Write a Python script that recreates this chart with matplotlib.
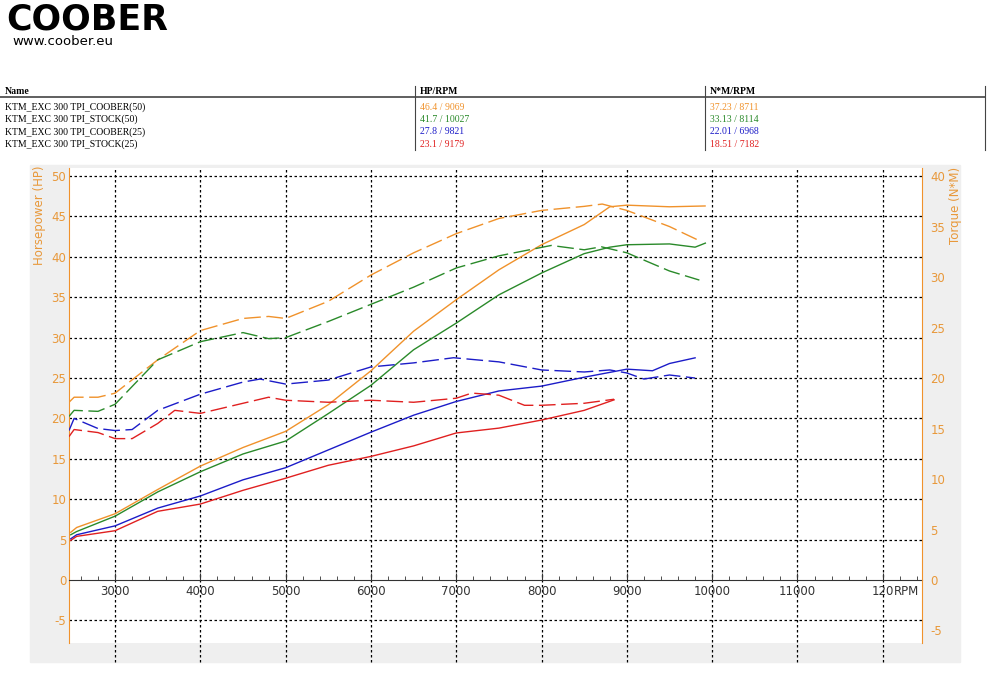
import matplotlib
matplotlib.use("Agg")
import matplotlib.pyplot as plt
from matplotlib.lines import Line2D
from matplotlib.patches import Rectangle
import numpy as np

names = ["KTM_EXC 300 TPI_COOBER(50)", "KTM_EXC 300 TPI_STOCK(50)",
         "KTM_EXC 300 TPI_COOBER(25)", "KTM_EXC 300 TPI_STOCK(25)"]
hp_peaks = ["46.4 / 9069", "41.7 / 10027", "27.8 / 9821", "23.1 / 9179"]
tq_peaks = ["37.23 / 8711", "33.13 / 8114", "22.01 / 6968", "18.51 / 7182"]
colors = ["#f0922b", "#2a8a2a", "#1c1cc8", "#e02020"]

# Horsepower (solid)
hp_rpm = [
    [2480, 2550, 3000, 3500, 4000, 4500, 5000, 5500, 6000, 6500, 7000, 7500, 8000, 8500, 8800, 9000, 9500, 9917],
    [2480, 2550, 3000, 3500, 4000, 4500, 5000, 5500, 6000, 6500, 7000, 7500, 8000, 8500, 8800, 9000, 9500, 9800, 9920],
    [2480, 2550, 3000, 3500, 4000, 4500, 5000, 5500, 6000, 6500, 7000, 7500, 8000, 8500, 9000, 9300, 9500, 9800],
    [2480, 2550, 3000, 3500, 4000, 4500, 5000, 5500, 6000, 6500, 7000, 7500, 8000, 8500, 8850],
]
hp_val = [
    [5.9, 6.5, 8.2, 11.2, 14.1, 16.4, 18.4, 21.7, 25.9, 30.8, 34.7, 38.4, 41.5, 44.0, 46.2, 46.4, 46.2, 46.3],
    [5.6, 6.0, 7.9, 10.9, 13.4, 15.6, 17.2, 20.6, 24.1, 28.5, 31.8, 35.3, 38.0, 40.4, 41.2, 41.5, 41.6, 41.2, 41.7],
    [5.1, 5.6, 6.7, 8.9, 10.4, 12.4, 13.9, 16.1, 18.3, 20.4, 22.1, 23.4, 24.0, 25.1, 26.1, 25.9, 26.8, 27.5],
    [4.9, 5.4, 6.1, 8.5, 9.4, 11.1, 12.6, 14.2, 15.3, 16.6, 18.2, 18.8, 19.8, 21.0, 22.3],
]

# Torque (dashed)
tq_rpm = [
    [2460, 2520, 2800, 3000, 3500, 4000, 4500, 4800, 5000, 5500, 6000, 6500, 7000, 7500, 8000, 8500, 8711, 9000, 9500, 9850],
    [2460, 2520, 2800, 3000, 3500, 4000, 4500, 4800, 5000, 5500, 6000, 6500, 7000, 7500, 8114, 8500, 8700, 9000, 9500, 9850],
    [2460, 2520, 2800, 3000, 3200, 3500, 4000, 4500, 4700, 5000, 5500, 6000, 6500, 6968, 7500, 8000, 8500, 8800, 9000, 9200, 9500, 9800],
    [2460, 2520, 2800, 3000, 3200, 3500, 3700, 4000, 4500, 4800, 5000, 5500, 6000, 6500, 7000, 7182, 7500, 7800, 8000, 8500, 8850],
]
tq_val = [
    [17.6, 18.1, 18.1, 18.5, 21.8, 24.7, 25.9, 26.1, 25.9, 27.6, 30.2, 32.4, 34.3, 35.8, 36.6, 37.0, 37.23, 36.6, 35.0, 33.6],
    [16.2, 16.8, 16.7, 17.4, 21.8, 23.6, 24.5, 23.9, 24.0, 25.6, 27.3, 29.0, 30.9, 32.1, 33.13, 32.7, 33.0, 32.4, 30.6, 29.7],
    [14.8, 16.0, 15.0, 14.8, 14.9, 16.8, 18.4, 19.6, 19.9, 19.4, 19.8, 21.1, 21.5, 22.01, 21.6, 20.8, 20.6, 20.8, 20.5, 19.9, 20.3, 20.0],
    [14.2, 14.9, 14.6, 14.0, 14.0, 15.5, 16.8, 16.5, 17.5, 18.1, 17.8, 17.6, 17.8, 17.6, 18.0, 18.51, 18.3, 17.3, 17.3, 17.5, 17.9],
]

fig = plt.figure(figsize=(10, 6.89), dpi=100)
W, H = 1000, 689
def fx(px): return px / W
def fy(py): return 1 - py / H

# header
fig.text(fx(6), fy(2), "COOBER", fontsize=25, fontweight="black", family="DejaVu Sans",
         color="black", va="top")
fig.text(fx(12), fy(45), "www.coober.eu", fontsize=9.5, color="black", va="baseline")

# table
serif = "Liberation Serif"
fig.text(fx(5), fy(94), "Name", fontsize=7, fontweight="bold", family=serif)
fig.text(fx(420), fy(94), "HP/RPM", fontsize=7, fontweight="bold", family=serif)
fig.text(fx(710), fy(94), "N*M/RPM", fontsize=7, fontweight="bold", family=serif)
fig.add_artist(Line2D([fx(0), fx(985)], [fy(97), fy(97)], color="#444", lw=1.2))
for xv in (415, 705, 985):
    fig.add_artist(Line2D([fx(xv), fx(xv)], [fy(86), fy(150)], color="#444", lw=0.8))
for i in range(4):
    yy = fy(107 + i * 12.5)
    fig.text(fx(5), yy, names[i], fontsize=7, family=serif, va="center")
    fig.text(fx(420), yy, hp_peaks[i], fontsize=7, family=serif, color=colors[i], va="center")
    fig.text(fx(710), yy, tq_peaks[i], fontsize=7, family=serif, color=colors[i], va="center")

# grey background
fig.add_artist(Rectangle((fx(30), fy(662)), fx(930), (662 - 165) / H, color="#efefef", zorder=0))

ax = fig.add_axes([fx(69), fy(643), fx(922 - 69), (643 - 168) / H])
ax.set_facecolor("white")
XL = (2460, 12460)
YL = (-7.8, 51)
ax.set_xlim(*XL)
ax.set_ylim(*YL)
ax2 = ax.twinx()
ax2.set_ylim(YL[0] * 0.8, YL[1] * 0.8)
ax2.set_xlim(*XL)

for i in range(4):
    ax.plot(hp_rpm[i], hp_val[i], color=colors[i], lw=1)
    ax2.plot(tq_rpm[i], tq_val[i], color=colors[i], lw=1, ls=(0, (12, 4)))

# grid
for yv in range(-5, 51, 5):
    if yv != 0:
        ax.axhline(yv, color="black", lw=0.9, ls=(0, (2, 2)), zorder=0.5)
for xv in range(3000, 12001, 1000):
    ax.add_line(Line2D([xv, xv], [YL[0] - 2.3, YL[1]], color="black", lw=0.9,
                       ls=(0, (2, 2)), clip_on=False, zorder=0.5))

orange = "#f0922b"
lab = "#e8983a"
ax.spines["top"].set_visible(False)
ax.spines["right"].set_visible(False)
ax2.spines["top"].set_visible(False)
ax2.spines["left"].set_visible(False)
ax2.spines["bottom"].set_visible(False)
ax.spines["left"].set_color(orange)
ax2.spines["right"].set_color(orange)
ax.spines["bottom"].set_position(("data", 0))
ax.spines["bottom"].set_color("#333")

yt = list(range(-5, 51, 5))
ax.set_yticks(yt)
ax.set_yticklabels([str(v) for v in yt])
ax.tick_params(axis="y", colors=orange, labelsize=8.5, length=0, pad=2, labelcolor=lab)
yt2 = list(range(-5, 41, 5))
ax2.set_yticks(yt2)
ax2.set_yticklabels([str(v) for v in yt2])
ax2.tick_params(axis="y", colors=orange, labelsize=8.5, length=0, pad=6, labelcolor=lab)

ax.set_xticks(range(3000, 12001, 1000))
ax.set_xticklabels([str(v) for v in range(3000, 12000, 1000)] + ["120"])
ax.set_xticks(range(2600, 12401, 200), minor=True)
ax.tick_params(axis="x", which="major", direction="in", length=5, labelsize=8.5, colors="#333")
ax.tick_params(axis="x", which="minor", direction="in", length=3, colors="#333")
ax.text(12280, -0.6, "RPM", fontsize=8.5, color="#333", va="top", ha="center")

fig.text(fx(40), fy(215), "Horsepower (HP)", rotation=90, fontsize=8.5, color=lab,
         ha="center", va="center")
fig.text(fx(955), fy(205), "Torque (N*M)", rotation=90, fontsize=8.5, color=lab,
         ha="center", va="center")

fig.savefig("out.png", dpi=100)
